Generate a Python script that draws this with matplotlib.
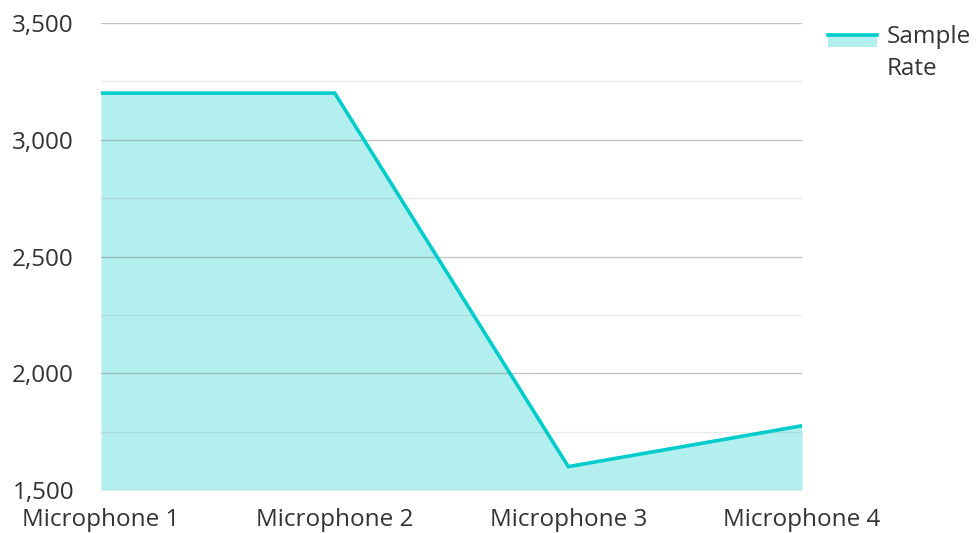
import matplotlib
matplotlib.use("Agg")
import matplotlib.pyplot as plt
from matplotlib.patches import Rectangle
from matplotlib.lines import Line2D

microfonos = ["Microphone 1", "Microphone 2", "Microphone 3", "Microphone 4"]
sample_rate = [3200, 3200, 1600, 1775]

C_LINEA = "#00cccc"
C_AREA = "#b2efee"

plt.rcParams["font.family"] = ["Open Sans", "DejaVu Sans"]

fig = plt.figure(figsize=(9.76, 5.33), dpi=100)
ax = fig.add_axes([0.1035, 0.0807, 0.7182, 0.8761])

x = list(range(len(microfonos)))
ax.fill_between(x, 1500, sample_rate, color=C_AREA, lw=0, zorder=1)
ax.plot(x, sample_rate, color=C_LINEA, lw=2.6, zorder=3, solid_joinstyle="miter")

ax.set_xlim(0, len(microfonos) - 1)
ax.set_ylim(1500, 3500)
ax.set_yticks([1500, 2000, 2500, 3000, 3500])
ax.set_yticks([1750, 2250, 2750, 3250], minor=True)
ax.set_yticklabels([f"{v:,}" for v in [1500, 2000, 2500, 3000, 3500]])
ax.set_xticks(x)
ax.set_xticklabels(microfonos)

ax.grid(axis="y", which="major", color="#7a7a7a", alpha=0.45, lw=1, zorder=2)
ax.grid(axis="y", which="minor", color="#9a9a9a", alpha=0.2, lw=1, zorder=2)
ax.set_axisbelow(False)
for s in ax.spines.values():
    s.set_visible(False)
ax.tick_params(axis="both", which="both", length=0, labelsize=17.5,
               colors="#333333")
ax.tick_params(axis="y", pad=19.5)
ax.tick_params(axis="x", pad=13)

# Leyenda dibujada a mano
fig.patches.append(Rectangle((828 / 976, 1 - 47 / 533), 49 / 976, 11 / 533,
                             transform=fig.transFigure, facecolor=C_AREA,
                             lw=0))
fig.lines.append(Line2D([828 / 976, 877 / 976], [1 - 35 / 533, 1 - 35 / 533],
                        transform=fig.transFigure, color=C_LINEA, lw=2.6))
fig.text(887 / 976, 1 - 25 / 533, "Sample\nRate", ha="left", va="top",
         fontsize=17.5, color="#333333", linespacing=1.43)

fig.savefig("out.png", dpi=100, facecolor="white")
